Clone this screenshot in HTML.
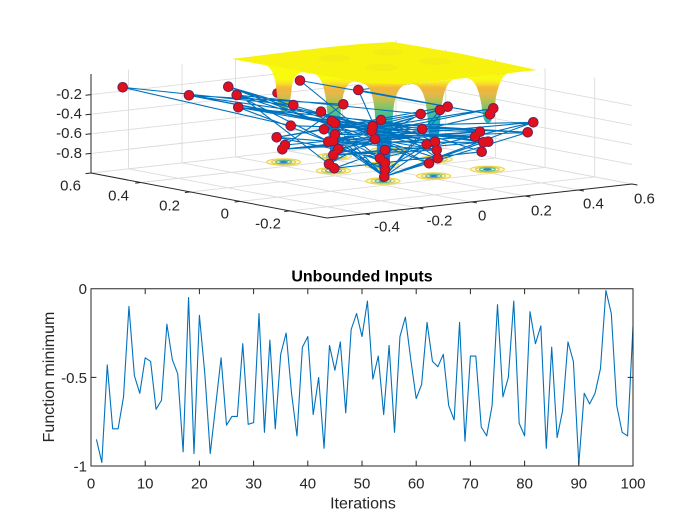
<!DOCTYPE html>
<html>
<head>
<meta charset="utf-8">
<style>
html,body{margin:0;padding:0;background:#fff;}
svg{display:block;}
text{font-family:"Liberation Sans", Arial, sans-serif; fill:#262626;}
</style>
</head>
<body>
<svg width="700" height="525" viewBox="0 0 700 525" xmlns="http://www.w3.org/2000/svg">
<defs>
<linearGradient id="fg" gradientUnits="userSpaceOnUse" x1="0" y1="79" x2="0" y2="177">
<stop offset="0" stop-color="#F9FB0E"/>
<stop offset="0.04" stop-color="#F9E526"/>
<stop offset="0.09" stop-color="#F3B63A"/>
<stop offset="0.16" stop-color="#E2B84A"/>
<stop offset="0.22" stop-color="#B8BF55"/>
<stop offset="0.3" stop-color="#7CC36A"/>
<stop offset="0.38" stop-color="#3CBBA0"/>
<stop offset="0.48" stop-color="#15ADC8"/>
<stop offset="0.62" stop-color="#1B8FD8"/>
<stop offset="0.8" stop-color="#0F6BE0"/>
<stop offset="1" stop-color="#352A87"/>
</linearGradient>
<g id="ct">
<ellipse rx="17" ry="3.2" fill="#FCF9D8" stroke="#EED640" stroke-width="1.2"/>
<ellipse rx="12" ry="2.3" fill="none" stroke="#D6C558" stroke-width="1.1"/>
<ellipse rx="8" ry="1.6" fill="none" stroke="#5ABB92" stroke-width="1.1"/>
<ellipse rx="4.5" ry="1.1" fill="#2A7FD8"/>
</g>
</defs>

<path fill="none" stroke="#DCDCDC" stroke-width="0.9" d="M364.5 213.8L128.5 168.8M418 207.9L182 162.9M471.5 201.9L235.5 156.9M525 196L289 151M578.5 190L342.5 145M632 184L396 139M289.7 210.9L594.7 176.9M240.1 201.4L545.1 167.4M190.4 191.9L495.4 157.9M140.7 182.5L445.7 148.5M91 173L396 139M128.5 168.8V69.8M182 162.9V63.9M235.5 156.9V57.9M289 151V52M342.5 145V46M396 139V40M91 153.4L396 119.4M91 133.8L396 99.8M91 114.2L396 80.2M91 94.6L396 60.6M445.7 148.5V49.5M495.4 157.9V58.9M545.1 167.4V68.4M594.7 176.9V77.9M396 119.4L632 164.4M396 99.8L632 144.4M396 80.2L632 125.2M396 60.6L632 105.6"/>

<path fill="none" stroke="#262626" stroke-width="1" d="M91 173V74M91 173L327 218L632 184M91 153.4l-5.5 0.6M91 133.8l-5.5 0.6M91 114.2l-5.5 0.6M91 94.6l-5.5 0.6M91 173l-5.5 0.6M140.7 182.5l-5.5 0.6M190.4 191.9l-5.5 0.6M240.1 201.4l-5.5 0.6M289.7 210.9l-5.5 0.6M364.5 213.8l5.4 1M418 207.9l5.4 1M471.5 201.9l5.4 1M525 196l5.4 1M578.5 190l5.4 1M632 184l5.4 1"/>

<g font-size="15">
<text x="82" y="98.8" text-anchor="end">-0.2</text>
<text x="82" y="118.6" text-anchor="end">-0.4</text>
<text x="82" y="138.2" text-anchor="end">-0.6</text>
<text x="82" y="157.8" text-anchor="end">-0.8</text>
<text x="81" y="190.4" text-anchor="end">0.6</text>
<text x="129" y="200.4" text-anchor="end">0.4</text>
<text x="180" y="210.4" text-anchor="end">0.2</text>
<text x="229" y="218.6" text-anchor="end">0</text>
<text x="281" y="228.4" text-anchor="end">-0.2</text>
<text x="374" y="231.4">-0.4</text>
<text x="426.5" y="225.4">-0.2</text>
<text x="478" y="220.4">0</text>
<text x="531" y="215.4">0.2</text>
<text x="583" y="208.4">0.4</text>
<text x="634" y="203.4">0.6</text>
</g>

<use href="#ct" x="283.6" y="162"/>
<use href="#ct" x="333.5" y="170.7"/>
<use href="#ct" x="383" y="181"/>
<use href="#ct" x="433.6" y="176"/>
<use href="#ct" x="487.4" y="169.4"/>
<use href="#ct" x="334.4" y="156.3"/>
<use href="#ct" x="387.9" y="150.4"/>
<use href="#ct" x="381.7" y="165.4"/>
<use href="#ct" x="435.2" y="159.4"/>

<line x1="358.3" y1="90" x2="500" y2="72.7" stroke="#0072BD" stroke-width="1.1"/>
<circle cx="277" cy="93" r="4.3" fill="#E0101C" stroke="#6A2256" stroke-width="1"/>
<circle cx="500" cy="73" r="3.6" fill="#C0201C" stroke="#6A2256" stroke-width="1"/>

<polygon points="231.7,59 258,55.8 300,50.5 330,47 360,44 393,42 420,46.5 460,53.5 500,62 537,70 384.6,87" fill="#F7F30E"/>
<g fill="#EEDD1E" opacity="0.3">
<ellipse cx="381.7" cy="67.4" rx="17" ry="3.8"/>
<ellipse cx="435.2" cy="61.4" rx="16" ry="3.5"/>
<ellipse cx="334.4" cy="58.3" rx="16" ry="3.5"/>
<ellipse cx="387.9" cy="52.4" rx="15" ry="3.2"/>
</g>

<g fill="url(#fg)">
<path d="M262 64C273 65.5 275.5 80 276.5 90C277.5 101 279.5 113 284 113C288.5 113 290.5 101 291.5 90C292.5 80 295 71 306 72.2Z" transform="translate(0,0)"/>
<path d="M313 73.4C324 75 326.5 100 327.5 115C328.5 135 329.5 161 334 161C338.5 161 339.5 135 340.5 115C341.5 100 344 81 355 81.8Z"/>
<path d="M361 82.6C373 84.5 374.5 105 375.5 122C376.5 145 378.5 179 384 179C389.5 179 391.5 145 392.5 122C393.5 105 395 86.5 407 84.4Z"/>
<path d="M413 84.1C424 85.5 426.5 104 427.5 117C428.5 131 429.5 148 434 148C438.5 148 439.5 131 440.5 117C441.5 104 444 81 455 79.3Z"/>
<path d="M466 78C477 79 479.5 95 481.5 105C482.5 114 483.5 123 488 123C492.5 123 493.5 114 494.5 105C496.5 95 499 75 510 72.9Z"/>
</g>

<polyline fill="none" stroke="#0072BD" stroke-width="1.1" stroke-linejoin="round" points="293.3,105 122.7,87.3 290.7,125.7 480,131.7 238.3,107.3 435,141.7 189,95.3 343.3,104.3 285,145 533.3,122.3 372.7,126 236.7,95 420.7,114 329,164 228.3,86.7 429,163.3 321,111.7 384.3,176.7 447.7,106.7 276.7,137.3 436.7,150 331.7,121 527.7,132.3 375,139 282.3,149.3 475,136.7 324,129.3 384.3,176.7 440,110 328.3,141.7 483.3,142.3 238.3,107.3 385,162.7 335,123.3 488.3,141.7 333.3,155 422.3,129 189,95.3 371.7,131 333.3,141 493.3,108.3 335,134.3 384.3,176.7 533.3,122.3 380,158.3 338.3,149 490,114.3 300,80.5 385,150 334.3,168.3 481.7,151.7 381,120 437.7,158.3 236.7,95 385,170 426.7,144.3 228.3,86.7 331.7,121 483.3,142.3 384.3,176.7 527.7,132.3 372.7,126 420.7,114 276.7,137.3 380,158.3 335,134.3 475,136.7 371.7,131 447.7,106.7 358.3,90 385,150 333.3,155 436.7,150 375,139 282.3,149.3 480,131.7 333.3,141 384.3,176.7 435,141.7 381,120"/>

<path fill="none" stroke="#6A2256" stroke-width="10.6" stroke-linecap="round" d="M122.7 87.3h0M189 95.3h0M228.3 86.7h0M236.7 95h0M238.3 107.3h0M300 80.5h0M293.3 105h0M290.7 125.7h0M276.7 137.3h0M285 145h0M282.3 149.3h0M321 111.7h0M331.7 121h0M335 123.3h0M324 129.3h0M335 134.3h0M328.3 141.7h0M333.3 141h0M338.3 149h0M333.3 155h0M329 164h0M334.3 168.3h0M343.3 104.3h0M358.3 90h0M381 120h0M372.7 126h0M371.7 131h0M375 139h0M385 150h0M380 158.3h0M385 162.7h0M385 170h0M384.3 176.7h0M420.7 114h0M440 110h0M447.7 106.7h0M422.3 129h0M426.7 144.3h0M435 141.7h0M436.7 150h0M437.7 158.3h0M429 163.3h0M493.3 108.3h0M490 114.3h0M475 136.7h0M480 131.7h0M483.3 142.3h0M488.3 141.7h0M481.7 151.7h0M533.3 122.3h0M527.7 132.3h0"/>
<path fill="none" stroke="#E0101C" stroke-width="8.6" stroke-linecap="round" d="M122.7 87.3h0M189 95.3h0M228.3 86.7h0M236.7 95h0M238.3 107.3h0M300 80.5h0M293.3 105h0M290.7 125.7h0M276.7 137.3h0M285 145h0M282.3 149.3h0M321 111.7h0M331.7 121h0M335 123.3h0M324 129.3h0M335 134.3h0M328.3 141.7h0M333.3 141h0M338.3 149h0M333.3 155h0M329 164h0M334.3 168.3h0M343.3 104.3h0M358.3 90h0M381 120h0M372.7 126h0M371.7 131h0M375 139h0M385 150h0M380 158.3h0M385 162.7h0M385 170h0M384.3 176.7h0M420.7 114h0M440 110h0M447.7 106.7h0M422.3 129h0M426.7 144.3h0M435 141.7h0M436.7 150h0M437.7 158.3h0M429 163.3h0M493.3 108.3h0M490 114.3h0M475 136.7h0M480 131.7h0M483.3 142.3h0M488.3 141.7h0M481.7 151.7h0M533.3 122.3h0M527.7 132.3h0"/>

<text x="362" y="281.7" text-anchor="middle" font-size="16" font-weight="bold" style="fill:#000">Unbounded Inputs</text>

<polyline fill="none" stroke="#0072BD" stroke-width="1.1" stroke-linejoin="round" points="96.42,439.4 101.84,462.5 107.26,364.9 112.68,428.8 118.1,428.8 123.52,396.9 128.94,306.4 134.36,375.6 139.78,393.3 145.2,357.8 150.62,361.4 156.04,409.3 161.46,400.4 166.88,324.2 172.3,359.6 177.72,373.8 183.14,451.8 188.56,297.6 193.98,453.6 199.4,315.3 204.82,373.8 210.24,453.6 215.66,405.7 221.08,357.8 226.5,425.2 231.92,416.4 237.34,416.4 242.76,343.7 248.18,424.3 253.6,422.6 259.02,313.5 264.44,432.3 269.86,340.1 275.28,428.8 280.7,354.3 286.12,333 291.54,393.3 296.96,435.9 302.38,347.2 307.8,336.6 313.22,414.6 318.64,377.4 324.06,448.3 329.48,345.4 334.9,370.3 340.32,341.9 345.74,412.8 351.16,329.5 356.58,313.5 362,336.6 367.42,301.1 372.84,379.1 378.26,356.1 383.68,414.6 389.1,345.4 394.52,432.3 399.94,336.6 405.36,317.1 410.78,359.6 416.2,398.6 421.62,384.4 427.04,322.4 432.46,361.4 437.88,366.7 443.3,354.3 448.72,405.7 454.14,419.9 459.56,322.4 464.98,441.2 470.4,356.1 475.82,356.1 481.24,427 486.66,435.9 492.08,405.7 497.5,304.7 502.92,396.9 508.34,377.4 513.76,301.1 519.18,423.4 524.6,435.9 530.02,311.7 535.44,343.7 540.86,325.9 546.28,448.3 551.7,347.2 557.12,437.6 562.54,411 567.96,341.9 573.38,361.4 578.8,464.2 584.22,393.3 589.64,403.9 595.06,393.3 600.48,368.5 605.9,290.5 611.32,313.5 616.74,405.7 622.16,432.3 627.58,435.9 633,325.9"/>

<path fill="none" stroke="#262626" stroke-width="1" d="M91 288.7H633V466H91ZM91 466v-5.4M145.2 466v-5.4M199.4 466v-5.4M253.6 466v-5.4M307.8 466v-5.4M362 466v-5.4M416.2 466v-5.4M470.4 466v-5.4M524.6 466v-5.4M578.8 466v-5.4M633 466v-5.4M91 288.7v5.4M145.2 288.7v5.4M199.4 288.7v5.4M253.6 288.7v5.4M307.8 288.7v5.4M362 288.7v5.4M416.2 288.7v5.4M470.4 288.7v5.4M524.6 288.7v5.4M578.8 288.7v5.4M633 288.7v5.4M91 288.7h5.4M91 377.35h5.4M91 466h5.4M633 288.7h-5.4M633 377.35h-5.4M633 466h-5.4"/>

<g font-size="15" text-anchor="middle">
<text x="91" y="488.5">0</text>
<text x="145.2" y="488.5">10</text>
<text x="199.4" y="488.5">20</text>
<text x="253.6" y="488.5">30</text>
<text x="307.8" y="488.5">40</text>
<text x="362" y="488.5">50</text>
<text x="416.2" y="488.5">60</text>
<text x="470.4" y="488.5">70</text>
<text x="524.6" y="488.5">80</text>
<text x="578.8" y="488.5">90</text>
<text x="633" y="488.5">100</text>
</g>
<g font-size="15" text-anchor="end">
<text x="87" y="294.2">0</text>
<text x="87" y="382.8">-0.5</text>
<text x="87" y="471.4">-1</text>
</g>

<text x="363" y="508.3" text-anchor="middle" font-size="16">Iterations</text>
<text x="54" y="377" text-anchor="middle" font-size="16" transform="rotate(-90 54 377)">Function minimum</text>
</svg>
</body>
</html>
